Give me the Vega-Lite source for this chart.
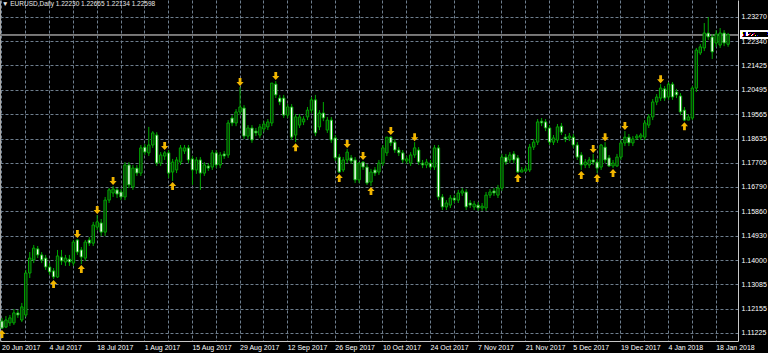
{
"$schema": "https://vega.github.io/schema/vega-lite/v6.json",
"width": 738, "height": 341,
"autosize": "none",
"padding": {"left": 0, "top": 0, "right": 30, "bottom": 12},
"background": "#000000",
"config": {"view": {"stroke": null}, "font": "Liberation Sans"},
"title": {"text": "▼ EURUSD,Daily  1.22230 1.22665 1.22134 1.22598", "anchor": "start", "frame": "group", "orient": "top", "baseline": "top", "offset": 0, "dy": 7, "dx": 2, "fontSize": 6.5, "fontWeight": "normal", "color": "#e8e8e8", "font": "Liberation Sans"},
"data": {"values": [
{"d":"2017-06-20","o":1.1168,"h":1.1180,"l":1.1138,"c":1.1141,"f":"d"},
{"d":"2017-06-21","o":1.1145,"h":1.1187,"l":1.1141,"c":1.1172},
{"d":"2017-06-22","o":1.1161,"h":1.1191,"l":1.1149,"c":1.1180},
{"d":"2017-06-23","o":1.1161,"h":1.1214,"l":1.1153,"c":1.1199},
{"d":"2017-06-25","o":1.1199,"h":1.1210,"l":1.1180,"c":1.1191},
{"d":"2017-06-26","o":1.1172,"h":1.1237,"l":1.1164,"c":1.1222},
{"d":"2017-06-27","o":1.1191,"h":1.1363,"l":1.1183,"c":1.1351},
{"d":"2017-06-28","o":1.1351,"h":1.1431,"l":1.1332,"c":1.1408},
{"d":"2017-06-29","o":1.1401,"h":1.1458,"l":1.1389,"c":1.1446},
{"d":"2017-06-30","o":1.1443,"h":1.1454,"l":1.1408,"c":1.1420},
{"d":"2017-07-02","o":1.1420,"h":1.1431,"l":1.1389,"c":1.1401},
{"d":"2017-07-03","o":1.1408,"h":1.1420,"l":1.1363,"c":1.1374},
{"d":"2017-07-04","o":1.1374,"h":1.1389,"l":1.1344,"c":1.1355},
{"d":"2017-07-05","o":1.1359,"h":1.1370,"l":1.1328,"c":1.1336,"f":"d"},
{"d":"2017-07-06","o":1.1336,"h":1.1439,"l":1.1332,"c":1.1416},
{"d":"2017-07-07","o":1.1412,"h":1.1439,"l":1.1382,"c":1.1397},
{"d":"2017-07-09","o":1.1393,"h":1.1420,"l":1.1378,"c":1.1408},
{"d":"2017-07-10","o":1.1404,"h":1.1420,"l":1.1378,"c":1.1393},
{"d":"2017-07-11","o":1.1389,"h":1.1477,"l":1.1378,"c":1.1469},
{"d":"2017-07-12","o":1.1477,"h":1.1481,"l":1.1420,"c":1.1431,"f":"u"},
{"d":"2017-07-13","o":1.1439,"h":1.1450,"l":1.1385,"c":1.1412,"f":"d"},
{"d":"2017-07-14","o":1.1408,"h":1.1477,"l":1.1397,"c":1.1469},
{"d":"2017-07-16","o":1.1477,"h":1.1488,"l":1.1454,"c":1.1465},
{"d":"2017-07-17","o":1.1465,"h":1.1546,"l":1.1454,"c":1.1534},
{"d":"2017-07-18","o":1.1526,"h":1.1572,"l":1.1515,"c":1.1546,"f":"u"},
{"d":"2017-07-19","o":1.1542,"h":1.1557,"l":1.1492,"c":1.1507},
{"d":"2017-07-20","o":1.1507,"h":1.1641,"l":1.1492,"c":1.1629},
{"d":"2017-07-21","o":1.1629,"h":1.1675,"l":1.1618,"c":1.1668},
{"d":"2017-07-23","o":1.1656,"h":1.1683,"l":1.1641,"c":1.1671,"f":"u"},
{"d":"2017-07-24","o":1.1668,"h":1.1675,"l":1.1637,"c":1.1652},
{"d":"2017-07-25","o":1.1660,"h":1.1671,"l":1.1629,"c":1.1641},
{"d":"2017-07-26","o":1.1641,"h":1.1774,"l":1.1629,"c":1.1763},
{"d":"2017-07-27","o":1.1763,"h":1.1774,"l":1.1675,"c":1.1687},
{"d":"2017-07-28","o":1.1679,"h":1.1763,"l":1.1668,"c":1.1751},
{"d":"2017-07-30","o":1.1751,"h":1.1763,"l":1.1721,"c":1.1732},
{"d":"2017-07-31","o":1.1732,"h":1.1839,"l":1.1721,"c":1.1828},
{"d":"2017-08-01","o":1.1831,"h":1.1843,"l":1.1801,"c":1.1812},
{"d":"2017-08-02","o":1.1809,"h":1.1908,"l":1.1797,"c":1.1839},
{"d":"2017-08-03","o":1.1839,"h":1.1892,"l":1.1828,"c":1.1885},
{"d":"2017-08-04","o":1.1877,"h":1.1888,"l":1.1759,"c":1.1770},
{"d":"2017-08-06","o":1.1770,"h":1.1812,"l":1.1759,"c":1.1801},
{"d":"2017-08-07","o":1.1797,"h":1.1816,"l":1.1782,"c":1.1809,"f":"u"},
{"d":"2017-08-08","o":1.1809,"h":1.1820,"l":1.1713,"c":1.1732},
{"d":"2017-08-09","o":1.1736,"h":1.1786,"l":1.1702,"c":1.1774,"f":"d"},
{"d":"2017-08-10","o":1.1744,"h":1.1793,"l":1.1732,"c":1.1782},
{"d":"2017-08-11","o":1.1774,"h":1.1839,"l":1.1763,"c":1.1828},
{"d":"2017-08-13","o":1.1816,"h":1.1839,"l":1.1805,"c":1.1828},
{"d":"2017-08-14","o":1.1828,"h":1.1839,"l":1.1770,"c":1.1782},
{"d":"2017-08-15","o":1.1786,"h":1.1797,"l":1.1687,"c":1.1744},
{"d":"2017-08-16","o":1.1744,"h":1.1793,"l":1.1729,"c":1.1782},
{"d":"2017-08-17","o":1.1782,"h":1.1793,"l":1.1668,"c":1.1732},
{"d":"2017-08-18","o":1.1732,"h":1.1774,"l":1.1721,"c":1.1763},
{"d":"2017-08-20","o":1.1759,"h":1.1770,"l":1.1740,"c":1.1751},
{"d":"2017-08-21","o":1.1755,"h":1.1820,"l":1.1744,"c":1.1809},
{"d":"2017-08-22","o":1.1809,"h":1.1820,"l":1.1751,"c":1.1763},
{"d":"2017-08-23","o":1.1763,"h":1.1812,"l":1.1751,"c":1.1801},
{"d":"2017-08-24","o":1.1805,"h":1.1816,"l":1.1786,"c":1.1797},
{"d":"2017-08-25","o":1.1801,"h":1.1934,"l":1.1790,"c":1.1923},
{"d":"2017-08-27","o":1.1942,"h":1.1953,"l":1.1911,"c":1.1923},
{"d":"2017-08-28","o":1.1923,"h":1.1976,"l":1.1911,"c":1.1965},
{"d":"2017-08-29","o":1.1965,"h":1.2060,"l":1.1953,"c":1.1984,"f":"u"},
{"d":"2017-08-30","o":1.1980,"h":1.1991,"l":1.1862,"c":1.1873},
{"d":"2017-08-31","o":1.1873,"h":1.1915,"l":1.1862,"c":1.1904},
{"d":"2017-09-01","o":1.1904,"h":1.1915,"l":1.1847,"c":1.1858},
{"d":"2017-09-03","o":1.1892,"h":1.1904,"l":1.1873,"c":1.1885},
{"d":"2017-09-04","o":1.1877,"h":1.1919,"l":1.1866,"c":1.1908},
{"d":"2017-09-05","o":1.1900,"h":1.1930,"l":1.1888,"c":1.1919},
{"d":"2017-09-06","o":1.1908,"h":1.1938,"l":1.1896,"c":1.1927},
{"d":"2017-09-07","o":1.1923,"h":1.2075,"l":1.1911,"c":1.2075},
{"d":"2017-09-08","o":1.2071,"h":1.2083,"l":1.2018,"c":1.2030,"f":"u"},
{"d":"2017-09-10","o":1.2018,"h":1.2030,"l":1.1991,"c":1.2003},
{"d":"2017-09-11","o":1.2018,"h":1.2030,"l":1.1942,"c":1.1953},
{"d":"2017-09-12","o":1.1953,"h":1.1995,"l":1.1942,"c":1.1984},
{"d":"2017-09-13","o":1.1984,"h":1.1995,"l":1.1858,"c":1.1869},
{"d":"2017-09-14","o":1.1877,"h":1.1957,"l":1.1850,"c":1.1946,"f":"d"},
{"d":"2017-09-15","o":1.1915,"h":1.1957,"l":1.1904,"c":1.1946},
{"d":"2017-09-17","o":1.1927,"h":1.1949,"l":1.1915,"c":1.1938},
{"d":"2017-09-18","o":1.1946,"h":1.1984,"l":1.1934,"c":1.1972},
{"d":"2017-09-19","o":1.1972,"h":1.2022,"l":1.1961,"c":1.2011},
{"d":"2017-09-20","o":1.2011,"h":1.2030,"l":1.1873,"c":1.1885},
{"d":"2017-09-21","o":1.1908,"h":1.1972,"l":1.1896,"c":1.1961},
{"d":"2017-09-22","o":1.1961,"h":1.2003,"l":1.1930,"c":1.1942},
{"d":"2017-09-24","o":1.1896,"h":1.1946,"l":1.1885,"c":1.1934},
{"d":"2017-09-25","o":1.1934,"h":1.1946,"l":1.1847,"c":1.1858},
{"d":"2017-09-26","o":1.1866,"h":1.1877,"l":1.1778,"c":1.1790},
{"d":"2017-09-27","o":1.1793,"h":1.1805,"l":1.1732,"c":1.1736,"f":"d"},
{"d":"2017-09-28","o":1.1744,"h":1.1793,"l":1.1736,"c":1.1782},
{"d":"2017-09-29","o":1.1782,"h":1.1824,"l":1.1770,"c":1.1812,"f":"u"},
{"d":"2017-10-01","o":1.1790,"h":1.1801,"l":1.1767,"c":1.1778},
{"d":"2017-10-02","o":1.1782,"h":1.1793,"l":1.1694,"c":1.1706},
{"d":"2017-10-03","o":1.1706,"h":1.1774,"l":1.1694,"c":1.1770},
{"d":"2017-10-04","o":1.1774,"h":1.1778,"l":1.1744,"c":1.1755,"f":"u"},
{"d":"2017-10-05","o":1.1755,"h":1.1767,"l":1.1687,"c":1.1694},
{"d":"2017-10-06","o":1.1698,"h":1.1748,"l":1.1683,"c":1.1736,"f":"d"},
{"d":"2017-10-08","o":1.1744,"h":1.1755,"l":1.1721,"c":1.1732},
{"d":"2017-10-09","o":1.1736,"h":1.1782,"l":1.1725,"c":1.1770},
{"d":"2017-10-10","o":1.1770,"h":1.1839,"l":1.1759,"c":1.1828},
{"d":"2017-10-11","o":1.1809,"h":1.1869,"l":1.1797,"c":1.1869},
{"d":"2017-10-12","o":1.1869,"h":1.1873,"l":1.1835,"c":1.1847,"f":"u"},
{"d":"2017-10-13","o":1.1850,"h":1.1862,"l":1.1809,"c":1.1820},
{"d":"2017-10-15","o":1.1820,"h":1.1831,"l":1.1797,"c":1.1809},
{"d":"2017-10-16","o":1.1809,"h":1.1820,"l":1.1770,"c":1.1782},
{"d":"2017-10-17","o":1.1778,"h":1.1797,"l":1.1767,"c":1.1786},
{"d":"2017-10-18","o":1.1770,"h":1.1812,"l":1.1759,"c":1.1801},
{"d":"2017-10-19","o":1.1801,"h":1.1850,"l":1.1790,"c":1.1828,"f":"u"},
{"d":"2017-10-20","o":1.1820,"h":1.1831,"l":1.1763,"c":1.1774},
{"d":"2017-10-22","o":1.1770,"h":1.1782,"l":1.1751,"c":1.1763},
{"d":"2017-10-23","o":1.1763,"h":1.1786,"l":1.1751,"c":1.1774},
{"d":"2017-10-24","o":1.1770,"h":1.1782,"l":1.1744,"c":1.1755},
{"d":"2017-10-25","o":1.1755,"h":1.1839,"l":1.1744,"c":1.1828},
{"d":"2017-10-26","o":1.1828,"h":1.1839,"l":1.1629,"c":1.1641},
{"d":"2017-10-27","o":1.1641,"h":1.1652,"l":1.1591,"c":1.1603},
{"d":"2017-10-29","o":1.1603,"h":1.1629,"l":1.1591,"c":1.1618},
{"d":"2017-10-30","o":1.1610,"h":1.1648,"l":1.1599,"c":1.1637},
{"d":"2017-10-31","o":1.1637,"h":1.1648,"l":1.1618,"c":1.1629},
{"d":"2017-11-01","o":1.1629,"h":1.1668,"l":1.1618,"c":1.1656},
{"d":"2017-11-02","o":1.1656,"h":1.1675,"l":1.1645,"c":1.1664},
{"d":"2017-11-03","o":1.1660,"h":1.1671,"l":1.1591,"c":1.1603},
{"d":"2017-11-05","o":1.1618,"h":1.1629,"l":1.1599,"c":1.1610},
{"d":"2017-11-06","o":1.1603,"h":1.1626,"l":1.1591,"c":1.1614},
{"d":"2017-11-07","o":1.1610,"h":1.1622,"l":1.1588,"c":1.1599},
{"d":"2017-11-08","o":1.1599,"h":1.1618,"l":1.1588,"c":1.1606},
{"d":"2017-11-09","o":1.1599,"h":1.1660,"l":1.1588,"c":1.1648},
{"d":"2017-11-10","o":1.1648,"h":1.1671,"l":1.1637,"c":1.1660},
{"d":"2017-11-12","o":1.1664,"h":1.1675,"l":1.1645,"c":1.1656},
{"d":"2017-11-13","o":1.1648,"h":1.1687,"l":1.1637,"c":1.1675},
{"d":"2017-11-14","o":1.1675,"h":1.1805,"l":1.1664,"c":1.1793},
{"d":"2017-11-15","o":1.1793,"h":1.1805,"l":1.1763,"c":1.1774},
{"d":"2017-11-16","o":1.1782,"h":1.1812,"l":1.1770,"c":1.1801},
{"d":"2017-11-17","o":1.1805,"h":1.1816,"l":1.1770,"c":1.1782},
{"d":"2017-11-19","o":1.1790,"h":1.1801,"l":1.1732,"c":1.1736,"f":"d"},
{"d":"2017-11-20","o":1.1736,"h":1.1755,"l":1.1736,"c":1.1744},
{"d":"2017-11-21","o":1.1740,"h":1.1759,"l":1.1736,"c":1.1748},
{"d":"2017-11-22","o":1.1744,"h":1.1843,"l":1.1736,"c":1.1831},
{"d":"2017-11-23","o":1.1831,"h":1.1862,"l":1.1820,"c":1.1850},
{"d":"2017-11-24","o":1.1850,"h":1.1938,"l":1.1839,"c":1.1927},
{"d":"2017-11-26","o":1.1930,"h":1.1942,"l":1.1911,"c":1.1923},
{"d":"2017-11-27","o":1.1927,"h":1.1938,"l":1.1892,"c":1.1904},
{"d":"2017-11-28","o":1.1904,"h":1.1915,"l":1.1839,"c":1.1850},
{"d":"2017-11-29","o":1.1850,"h":1.1877,"l":1.1839,"c":1.1866},
{"d":"2017-11-30","o":1.1858,"h":1.1919,"l":1.1847,"c":1.1908},
{"d":"2017-12-01","o":1.1911,"h":1.1923,"l":1.1877,"c":1.1888},
{"d":"2017-12-03","o":1.1869,"h":1.1881,"l":1.1850,"c":1.1862},
{"d":"2017-12-04","o":1.1866,"h":1.1885,"l":1.1854,"c":1.1873},
{"d":"2017-12-05","o":1.1869,"h":1.1881,"l":1.1828,"c":1.1839},
{"d":"2017-12-06","o":1.1839,"h":1.1850,"l":1.1782,"c":1.1793},
{"d":"2017-12-07","o":1.1801,"h":1.1812,"l":1.1744,"c":1.1763,"f":"d"},
{"d":"2017-12-08","o":1.1763,"h":1.1786,"l":1.1751,"c":1.1774},
{"d":"2017-12-10","o":1.1763,"h":1.1793,"l":1.1751,"c":1.1782},
{"d":"2017-12-11","o":1.1782,"h":1.1805,"l":1.1763,"c":1.1774,"f":"u"},
{"d":"2017-12-12","o":1.1774,"h":1.1786,"l":1.1732,"c":1.1751,"f":"d"},
{"d":"2017-12-13","o":1.1755,"h":1.1843,"l":1.1744,"c":1.1839},
{"d":"2017-12-14","o":1.1831,"h":1.1850,"l":1.1770,"c":1.1782,"f":"u"},
{"d":"2017-12-15","o":1.1790,"h":1.1801,"l":1.1755,"c":1.1759},
{"d":"2017-12-17","o":1.1759,"h":1.1782,"l":1.1751,"c":1.1770,"f":"d"},
{"d":"2017-12-18","o":1.1759,"h":1.1805,"l":1.1755,"c":1.1793},
{"d":"2017-12-19","o":1.1793,"h":1.1858,"l":1.1782,"c":1.1847},
{"d":"2017-12-20","o":1.1847,"h":1.1892,"l":1.1835,"c":1.1869,"f":"u"},
{"d":"2017-12-21","o":1.1869,"h":1.1881,"l":1.1835,"c":1.1847},
{"d":"2017-12-22","o":1.1847,"h":1.1873,"l":1.1835,"c":1.1862},
{"d":"2017-12-24","o":1.1866,"h":1.1881,"l":1.1858,"c":1.1873},
{"d":"2017-12-26","o":1.1869,"h":1.1885,"l":1.1858,"c":1.1877},
{"d":"2017-12-27","o":1.1869,"h":1.1934,"l":1.1858,"c":1.1923},
{"d":"2017-12-28","o":1.1915,"h":1.1957,"l":1.1904,"c":1.1946},
{"d":"2017-12-29","o":1.1946,"h":1.2014,"l":1.1934,"c":1.2003},
{"d":"2017-12-31","o":1.2003,"h":1.2033,"l":1.1991,"c":1.2022},
{"d":"2018-01-02","o":1.2018,"h":1.2071,"l":1.2007,"c":1.2056,"f":"u"},
{"d":"2018-01-03","o":1.2053,"h":1.2064,"l":1.2007,"c":1.2018},
{"d":"2018-01-04","o":1.2022,"h":1.2079,"l":1.2011,"c":1.2071},
{"d":"2018-01-05","o":1.2071,"h":1.2079,"l":1.2011,"c":1.2022},
{"d":"2018-01-07","o":1.2041,"h":1.2053,"l":1.2018,"c":1.2030},
{"d":"2018-01-08","o":1.2026,"h":1.2037,"l":1.1953,"c":1.1965},
{"d":"2018-01-09","o":1.1972,"h":1.1984,"l":1.1930,"c":1.1934,"f":"d"},
{"d":"2018-01-10","o":1.1934,"h":1.1957,"l":1.1934,"c":1.1946},
{"d":"2018-01-11","o":1.1942,"h":1.2064,"l":1.1934,"c":1.2056},
{"d":"2018-01-12","o":1.2056,"h":1.2209,"l":1.2041,"c":1.2201},
{"d":"2018-01-14","o":1.2190,"h":1.2224,"l":1.2182,"c":1.2213},
{"d":"2018-01-15","o":1.2209,"h":1.2304,"l":1.2197,"c":1.2266},
{"d":"2018-01-16","o":1.2266,"h":1.2327,"l":1.2239,"c":1.2251},
{"d":"2018-01-17","o":1.2251,"h":1.2262,"l":1.2167,"c":1.2194},
{"d":"2018-01-18","o":1.2228,"h":1.2277,"l":1.2213,"c":1.2262},
{"d":"2018-01-19","o":1.2220,"h":1.2285,"l":1.2209,"c":1.2266},
{"d":"2018-01-21","o":1.2266,"h":1.2277,"l":1.2216,"c":1.2228},
{"d":"2018-01-22","o":1.22230,"h":1.22665,"l":1.22134,"c":1.22598}
]},
"layer": [
{"mark": {"type": "rule", "color": "#7a7a7a", "strokeWidth": 1},
 "encoding": {"y": {"datum": 1.22598, "type": "quantitative", "axis": null}}},
{"mark": {"type": "rule", "color": "#00a800", "strokeWidth": 1},
 "encoding": {
  "x": {"field": "d", "type": "ordinal", "title": null, "scale": {"type": "band", "paddingInner": 0, "paddingOuter": 1.27, "align": 0},
   "axis": {"title": null, "values": ["2017-06-20","2017-06-27","2017-07-04","2017-07-11","2017-07-18","2017-07-25","2017-08-01","2017-08-08","2017-08-15","2017-08-22","2017-08-29","2017-09-05","2017-09-12","2017-09-19","2017-09-26","2017-10-03","2017-10-10","2017-10-17","2017-10-24","2017-10-31","2017-11-07","2017-11-14","2017-11-21","2017-11-28","2017-12-05","2017-12-12","2017-12-19","2017-12-27","2018-01-04","2018-01-11","2018-01-18"],
    "labelExpr": "indexof(['2017-06-20','2017-07-04','2017-07-18','2017-08-01','2017-08-15','2017-08-29','2017-09-12','2017-09-26','2017-10-10','2017-10-24','2017-11-07','2017-11-21','2017-12-05','2017-12-19','2018-01-04','2018-01-18'], datum.value) < 0 ? '' : utcFormat(toDate(datum.value), '%-d %b %Y')",
    "labelAlign": "left", "labelBaseline": "top", "labelPadding": 2, "labelAngle": 0, "labelColor": "#ffffff", "labelFontSize": 7, "labelFont": "Liberation Sans", "labelOverlap": false, "labelBound": false, "labelFlush": false,
    "ticks": false, "grid": true, "gridColor": "#6e7e8e", "gridDash": [3, 2], "gridWidth": 1, "domainColor": "#c8c8c8", "domainWidth": 1, "bandPosition": 0.5}},
  "y": {"field": "l", "type": "quantitative", "scale": {"domain": [1.10919, 1.23918], "nice": false, "zero": false},
   "axis": {"orient": "right", "title": null, "values": [1.2327, 1.2234, 1.21425, 1.20495, 1.19565, 1.18635, 1.17705, 1.1679, 1.1586, 1.1493, 1.14, 1.13085, 1.12155, 1.11225], "format": ".5f",
    "labelColor": "#ffffff", "labelFontSize": 7, "labelFont": "Liberation Sans", "labelPadding": 3, "labelBaseline": "middle", "ticks": false, "grid": true, "gridColor": "#6e7e8e", "gridDash": [3, 2], "domainColor": "#c8c8c8", "labelOverlap": false, "labelFlush": false}},
  "y2": {"field": "h"}
 }},
{"mark": {"type": "bar", "width": 2.4, "stroke": "#00a800", "strokeWidth": 1},
 "encoding": {
  "x": {"field": "d", "type": "ordinal", "title": null},
  "y": {"field": "o", "type": "quantitative", "axis": {"orient": "left", "title": null, "labels": false, "ticks": false, "grid": false, "domainColor": "#a8a8a8"}},
  "y2": {"field": "c"},
  "fill": {"condition": {"test": "datum.c >= datum.o", "value": "#0a2e0a"}, "value": "#ffffff"}
 }},
{"transform": [{"filter": "datum.f === 'u'"}],
 "mark": {"type": "point", "shape": "M-0.35,-1 L0.35,-1 L0.35,0 L0.9,0 L0,1 L-0.9,0 L-0.35,0 Z", "size": 64, "filled": true, "fill": "#f2b600", "opacity": 1, "yOffset": -5},
 "encoding": {"x": {"field": "d", "type": "ordinal", "title": null}, "y": {"field": "h", "type": "quantitative", "axis": null}}},
{"transform": [{"filter": "datum.f === 'd'"}],
 "mark": {"type": "point", "shape": "M-0.35,1 L0.35,1 L0.35,0 L0.9,0 L0,-1 L-0.9,0 L-0.35,0 Z", "size": 64, "filled": true, "fill": "#f2b600", "opacity": 1, "yOffset": 5},
 "encoding": {"x": {"field": "d", "type": "ordinal", "title": null}, "y": {"field": "l", "type": "quantitative", "axis": null}}},
{"mark": {"type": "point", "shape": "M-1,-0.26 L1,-0.26 L1,0.26 L-1,0.26 Z", "size": 841, "filled": true, "fill": "#ffffff", "opacity": 1, "xOffset": 27},
 "encoding": {"x": {"datum": "2018-01-22", "type": "ordinal", "title": null}, "y": {"datum": 1.22598, "type": "quantitative", "axis": null}}},
{"mark": {"type": "text", "text": "1.22598", "font": "Liberation Sans", "fontSize": 7, "color": "#000000", "align": "center", "baseline": "middle", "xOffset": 27},
 "encoding": {"x": {"datum": "2018-01-22", "type": "ordinal", "title": null}, "y": {"datum": 1.22598, "type": "quantitative", "axis": null}}}
],
"resolve": {"axis": {"y": "independent"}}
}
